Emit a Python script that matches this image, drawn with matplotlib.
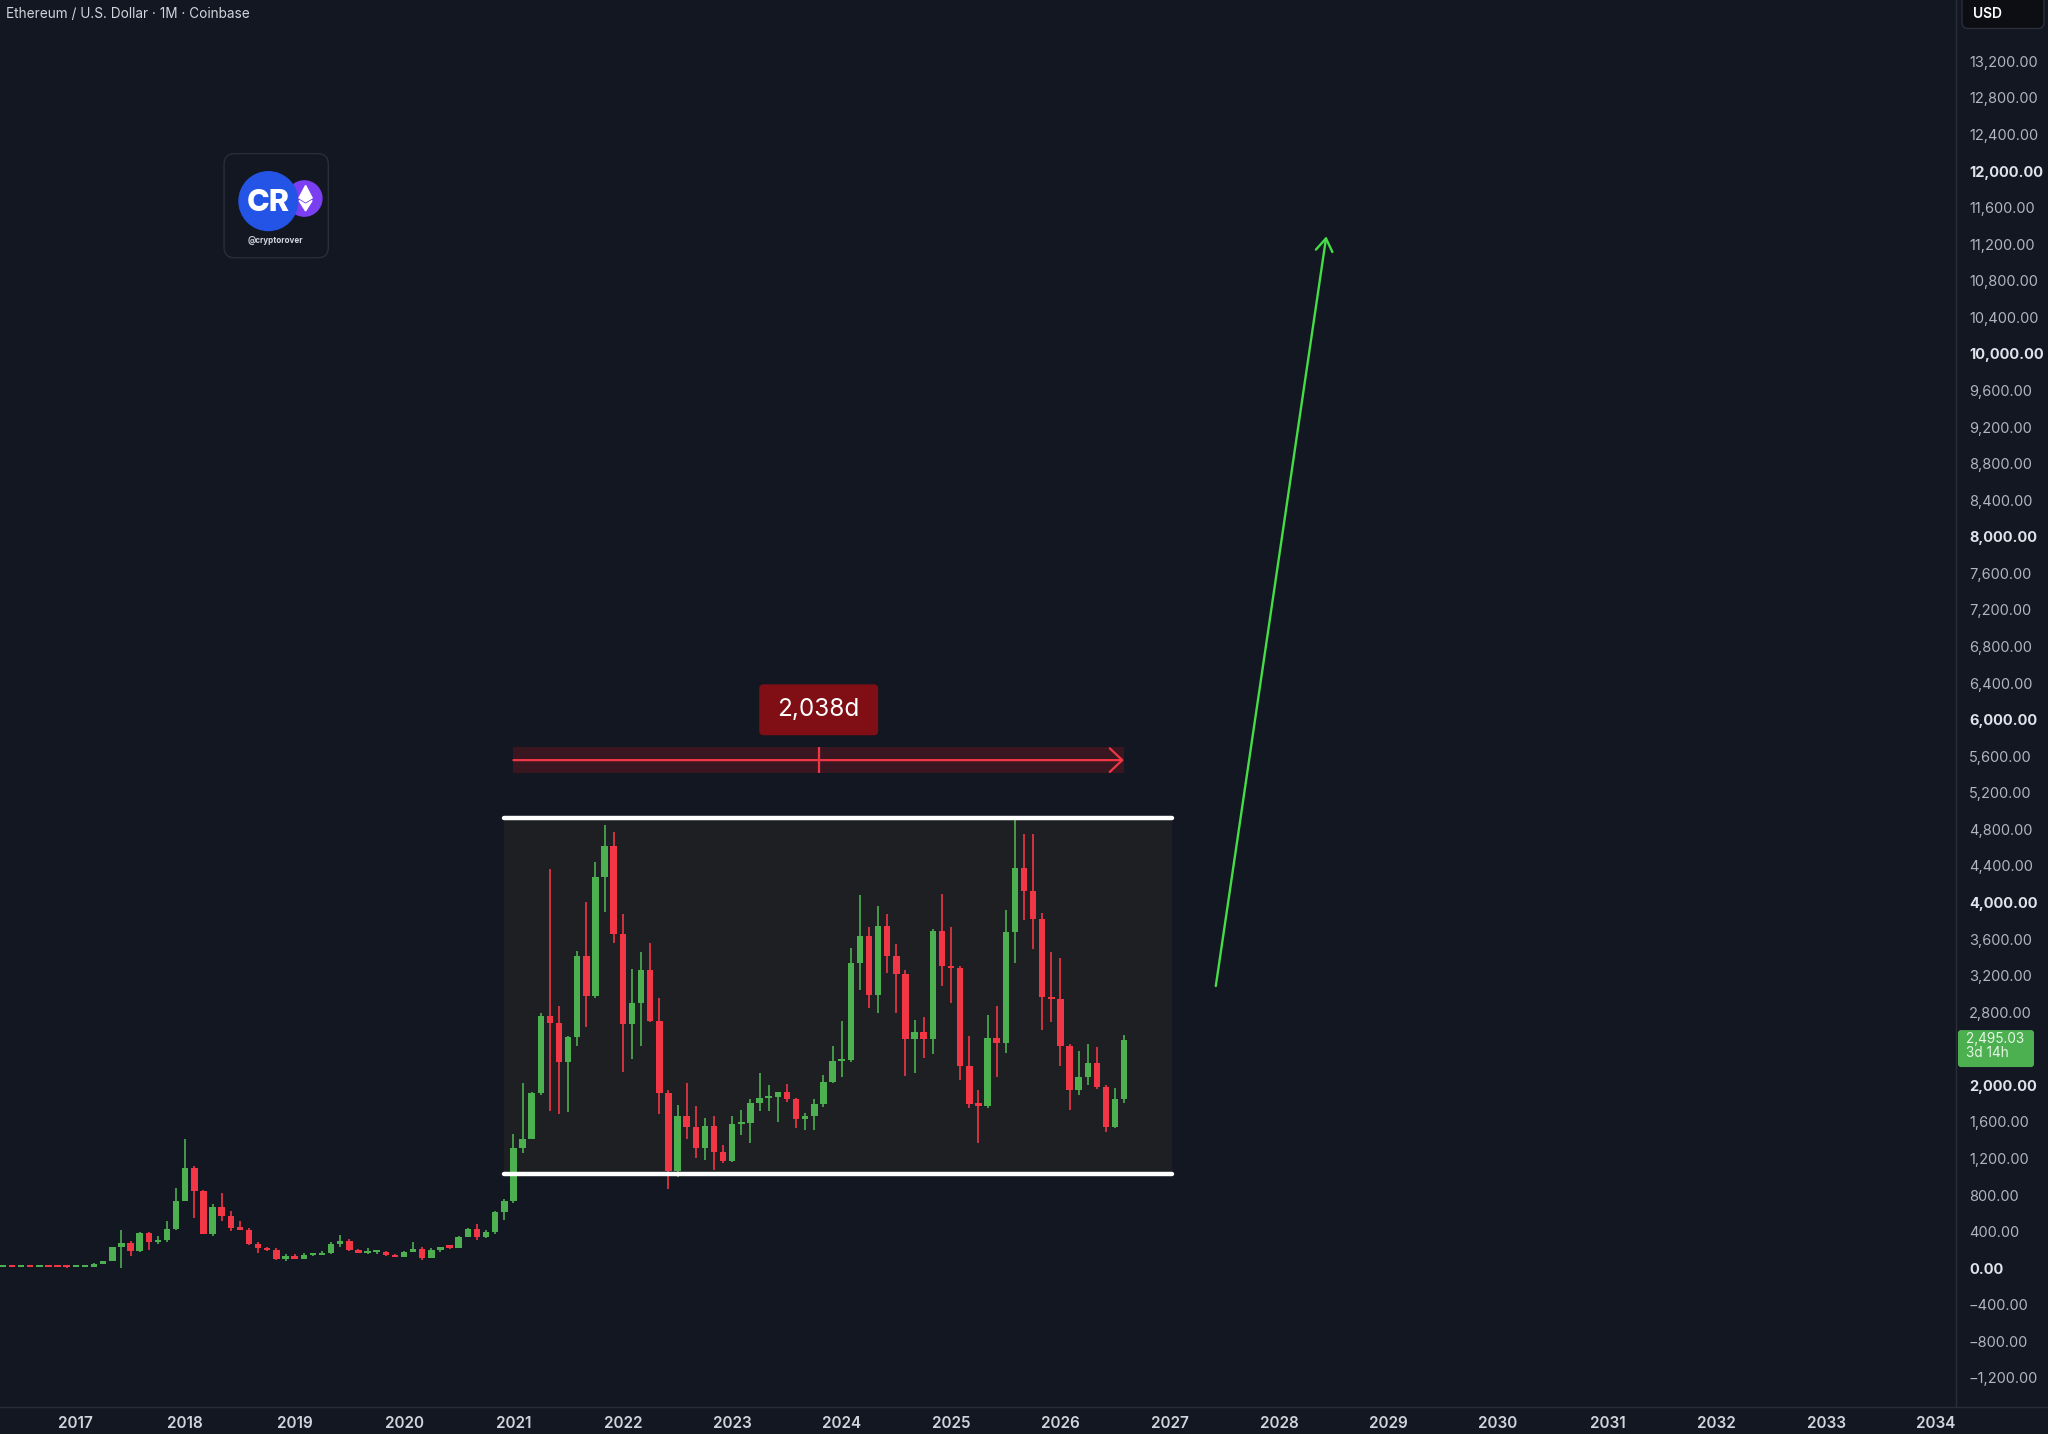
import numpy as np
import pandas as pd
import matplotlib
matplotlib.use("Agg")
import matplotlib.pyplot as plt
from matplotlib.patches import FancyBboxPatch, Rectangle, Circle, Polygon
from matplotlib.lines import Line2D
from matplotlib.transforms import IdentityTransform

plt.rcParams['font.family'] = ['Inter', 'DejaVu Sans']

BG = '#131722'
GREEN = '#4caf50'
RED = '#f23645'
GRID = '#2a2e39'
TXT = '#d1d4dc'

# monthly candles, ETH/USD Coinbase
months = pd.period_range('2016-05', '2026-08', freq='M')

opens = [
    11.2, 14.0, 12.3, 12.4, 11.6, 13.2, 11.3, 8.6,                            # 2016 May-Dec
    8.0, 10.7, 16.0, 50, 80, 230, 276, 185, 385, 287, 305, 428,               # 2017
    737, 1093, 839, 374, 665, 566, 439, 421, 268, 221, 196, 101,              # 2018
    138, 101, 141, 145, 167, 268, 294, 203, 167, 177, 180, 141,               # 2019
    123, 178, 214, 112, 203, 230, 225, 341, 428, 341, 396, 610,               # 2020
    730, 1311, 1410, 1913, 2758, 2685, 2259, 2526, 3418, 2981, 4275, 4617,    # 2021
    3651, 2670, 2903, 3262, 2705, 1920, 1066, 1664, 1541, 1311, 1555, 1274,   # 2022
    1176, 1577, 1592, 1810, 1859, 1870, 1924, 1851, 1632, 1664, 1800, 2040,   # 2023
    2266, 2280, 3335, 3632, 2988, 3741, 3414, 3214, 2503, 2587, 2503, 3692,   # 2024
    3309, 3280, 2215, 1797, 1778, 2514, 2467, 3681, 4374, 4129, 3820, 2970,   # 2025
    2941, 2431, 1949, 2095, 2241, 1986, 1548, 1852,                           # 2026 Jan-Aug
]
highs = [
    14.8, 21.5, 15.0, 12.6, 14.0, 13.4, 11.8, 8.7,
    11.3, 16.6, 56, 82, 232, 414, 300, 400, 400, 348, 512, 875,
    1410, 1120, 850, 705, 821, 620, 512, 440, 290, 230, 225, 160,
    160, 167, 150, 185, 283, 359, 319, 212, 225, 198, 190, 152,
    185, 283, 230, 220, 232, 250, 350, 439, 487, 420, 620, 760,
    1464, 2029, 1930, 2788, 4363, 2871, 2540, 3473, 4009, 4446, 4847, 4767,
    3874, 3268, 3462, 3561, 2953, 1950, 1785, 2022, 1774, 1646, 1660, 1347,
    1665, 1730, 1847, 2133, 2004, 1930, 2015, 1860, 1694, 1847, 2113, 2431,
    2707, 3499, 4080, 3730, 3959, 3875, 3551, 3260, 2715, 2751, 3710, 4089,
    3735, 3300, 2540, 1949, 2769, 2868, 3918, 4939, 4746, 4746, 3886, 3455,
    3389, 2450, 2379, 2449, 2416, 2000, 1968, 2551,
]
lows = [
    9.4, 10.9, 10.6, 10.0, 11.3, 10.5, 8.4, 6.5,
    7.9, 10.3, 15.5, 43, 78, 1, 130, 180, 196, 268, 290, 420,
    730, 548, 370, 356, 512, 403, 415, 257, 167, 190, 94, 76,
    100, 100, 128, 140, 160, 232, 190, 165, 155, 155, 137, 118,
    118, 175, 94, 108, 180, 215, 220, 336, 305, 335, 370, 530,
    712, 1263, 1420, 1890, 1723, 1687, 1705, 2431, 2636, 2950, 3900, 3555,
    2150, 2285, 2431, 2690, 1687, 863, 1001, 1410, 1202, 1180, 1074, 1150,
    1165, 1457, 1366, 1723, 1723, 1604, 1821, 1530, 1512, 1512, 1767, 2022,
    2088, 2254, 3043, 2842, 2795, 3225, 2795, 2102, 2139, 2296, 2343, 3087,
    2904, 2058, 1750, 1373, 1750, 2095, 2357, 3342, 3809, 3491, 2605, 2697,
    2215, 1730, 1895, 2004, 1957, 1494, 1530, 1811,
]
closes = [
    14.0, 12.3, 12.4, 11.6, 13.2, 11.3, 8.6, 8.0,
    10.7, 16.0, 50, 80, 230, 276, 185, 385, 287, 305, 428, 737,
    1093, 839, 374, 665, 566, 439, 421, 268, 221, 196, 101, 138,
    101, 141, 145, 167, 268, 294, 203, 167, 177, 180, 141, 123,
    178, 214, 112, 203, 230, 225, 341, 428, 341, 396, 610, 730,
    1311, 1410, 1913, 2758, 2685, 2259, 2526, 3418, 2981, 4275, 4617, 3651,
    2670, 2903, 3262, 2705, 1920, 1066, 1664, 1541, 1311, 1555, 1274, 1176,
    1577, 1592, 1810, 1859, 1870, 1924, 1851, 1632, 1664, 1800, 2040, 2266,
    2280, 3335, 3632, 2988, 3741, 3414, 3214, 2503, 2587, 2503, 3692, 3309,
    3280, 2215, 1797, 1778, 2514, 2467, 3681, 4374, 4129, 3820, 2970, 2941,
    2431, 1949, 2095, 2241, 1986, 1548, 1852, 2495.03,
]

year_ticks = list(range(2017, 2035))
price_ticks = list(range(-1200, 13201, 400))

# drawings on the chart
range_low, range_high = 1029, 4925          # white range box
range_start, range_end = 2020.916, 2027.017
measure_start, measure_end, measure_y = 2021.0, 2026.58, 5557
measure_label = '2,038d'
target_from = (2027.42, 3086)
target_to = (2028.43, 11286)
countdown = '3d 14h'

o = np.array(opens, dtype=float)
h = np.array(highs, dtype=float)
l = np.array(lows, dtype=float)
c = np.array(closes, dtype=float)
x = months.year + (months.month - 1) / 12.0
up = c >= o
colors = np.where(up, GREEN, RED)
body_bot = np.minimum(o, c)
body_h = np.maximum(np.abs(c - o), 25)

fig = plt.figure(figsize=(20.48, 14.34), dpi=100, facecolor=BG)
ax = fig.add_axes([0, 0.01904, 0.9553, 0.98096], facecolor=BG)
ax.set_xlim(2016.307, 2034.19)
ax.set_ylim(-1515, 13871)

# range box
ax.add_patch(Rectangle((range_start, range_low), range_end - range_start, range_high - range_low,
                       facecolor='#1e1f22', edgecolor='none', zorder=1))

# candles
ax.vlines(x, l, h, colors=colors, linewidth=1.2, zorder=2)
ax.bar(x, body_h, bottom=body_bot, width=0.059, color=colors, linewidth=0, zorder=3)

for yv in (range_low, range_high):
    ax.plot([range_start, range_end], [yv, yv], color='white', lw=3.2,
            solid_capstyle='round', zorder=4)

# date range measure
ax.add_patch(Rectangle((measure_start, measure_y - 140), measure_end - measure_start, 280,
                       facecolor='#3a1720', edgecolor='none', zorder=1))
ax.annotate('', xy=(measure_end, measure_y), xytext=(measure_start, measure_y),
            arrowprops=dict(arrowstyle='->,head_length=0.9,head_width=0.85', color=RED, lw=1.6,
                            shrinkA=0, shrinkB=0), zorder=5)
mid = (measure_start + measure_end) / 2
ax.vlines(mid, measure_y - 140, measure_y + 140, color=RED, lw=1.6, zorder=5)
ax.add_patch(FancyBboxPatch((mid - 0.543, 5829), 1.087, 557,
                            boxstyle='round,pad=0,rounding_size=0.04', mutation_aspect=1197,
                            facecolor='#7f0f14', edgecolor='none', zorder=5))
ax.text(mid, 6110, measure_label, color='white', fontsize=17.5, ha='center', va='center', zorder=6)

# target arrow
ax.annotate('', xy=target_to, xytext=target_from,
            arrowprops=dict(arrowstyle='->,head_length=0.9,head_width=0.6', color='#45dd45', lw=1.7,
                            shrinkA=0, shrinkB=0), zorder=5)

# axes styling; the tick hidden under the last-price tag gets no label
ax.yaxis.tick_right()
ax.set_yticks(price_ticks)
ylabels = []
for v in price_ticks:
    if abs(v - c[-1]) < 200:
        ylabels.append('')
    else:
        ylabels.append(f"{v:,.2f}".replace('-', '\u2212'))
ax.set_yticklabels(ylabels)
for lab, v in zip(ax.get_yticklabels(), price_ticks):
    if v % 2000 == 0:
        lab.set_fontweight('bold')
        lab.set_color('#e0e3eb')
    else:
        lab.set_color('#b2b5be')
ax.set_xticks(year_ticks)
ax.set_xticklabels([str(y) for y in year_ticks], fontweight='semibold', color=TXT)
ax.tick_params(axis='y', length=0, pad=9, labelsize=10.5)
ax.tick_params(axis='x', length=0, pad=7, labelsize=11)
for side in ('top', 'left'):
    ax.spines[side].set_visible(False)
for side in ('right', 'bottom'):
    ax.spines[side].set_color(GRID)
    ax.spines[side].set_linewidth(1)
fig.add_artist(Line2D([0.9553, 1], [0.01904, 0.01904], color=GRID, lw=1))

# title
fig.text(6.5 / 2048, 1 - 14.4 / 1434, 'Ethereum / U.S. Dollar \u00b7 1M \u00b7 Coinbase',
         fontsize=9.8, color=TXT, va='center', ha='left')

# USD box
fig.add_artist(FancyBboxPatch((1962, 1434 - 28.5), 82, 40, boxstyle='round,pad=0,rounding_size=6',
                              transform=IdentityTransform(), facecolor='#0c0e14',
                              edgecolor=GRID, lw=1))
fig.text(1973 / 2048, 1 - 14.4 / 1434, 'USD', fontsize=10, color='white',
         fontweight='semibold', va='center', ha='left')

# last price label
fig.canvas.draw()
py = ax.transData.transform((0, c[-1]))[1]
fig.add_artist(FancyBboxPatch((1958, py - 27), 76, 37, boxstyle='round,pad=0,rounding_size=3',
                              transform=IdentityTransform(), facecolor=GREEN, edgecolor='none'))
fig.text(1966 / 2048, (py - 6) / 1434, f"{c[-1]:,.2f}\n{countdown}", fontsize=9.8,
         color='#e6f6e6', va='center', ha='left', linespacing=0.98)

# watermark logo
lg = fig.add_axes([223.3 / 2048, 1 - 258.6 / 1434, 105.8 / 2048, 105.8 / 1434])
lg.set_xlim(0, 81)
lg.set_ylim(81, 0)
lg.axis('off')
lg.add_patch(FancyBboxPatch((0.6, 0.6), 79.8, 79.8, boxstyle='round,pad=0,rounding_size=8',
                            facecolor=BG, edgecolor=GRID, lw=1))
lg.add_patch(Circle((62, 35), 13.5, color='#7b3ff2'))
lg.add_patch(Circle((34.5, 37), 22.5, color='#2354e6'))
lg.text(34.5, 38.5, 'CR', color='white', fontsize=22, fontweight='heavy', ha='center', va='center')
lg.add_patch(Polygon([(63, 25), (68, 34.5), (63, 37.5), (58, 34.5)], color='white'))
lg.add_patch(Polygon([(63, 39.5), (68, 36.5), (63, 44.5), (58, 36.5)], color='white'))
lg.text(40, 67, '@cryptorover', color=TXT, fontsize=5.8, fontweight='bold', ha='center', va='center')

fig.savefig('out.png', dpi=100, facecolor=BG)
